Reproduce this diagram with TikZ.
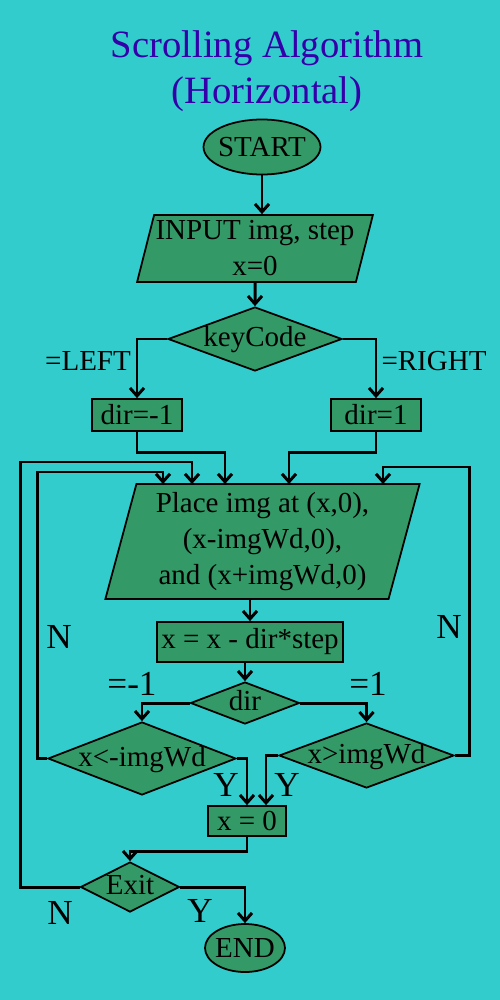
\documentclass[tikz,border=0pt]{standalone}
\usepackage{fontspec}
\setmainfont{Liberation Serif}
\usetikzlibrary{shapes.geometric,arrows.meta,calc}

\definecolor{bgcyan}{RGB}{51,204,204}
\definecolor{boxgreen}{RGB}{51,153,102}
\definecolor{titleblue}{RGB}{51,0,170}

\begin{document}
\begin{tikzpicture}[
				x=0.2mm, y=-0.2mm,
				basebox/.style={draw, line width=1pt, fill=boxgreen, inner sep=0pt,
						font=\fontsize{16.5}{20.5}\selectfont, align=center},
				terminal/.style={basebox, ellipse, inner xsep=-2.5pt},
				io/.style={basebox, trapezium, trapezium stretches=true, inner ysep=2pt},
				process/.style={basebox, rectangle, inner sep=2pt},
				decision/.style={basebox, diamond, shape aspect=3,
						text height=9pt, text depth=0pt},
				lbl/.style={font=\fontsize{16.5}{20}\selectfont},
				biglbl/.style={font=\fontsize{20}{24}\selectfont},
				arr/.style={-{Straight Barb[length=4.5pt,width=8pt]}, line width=1.7pt}]

			% background and title
			\fill[bgcyan] (0,0) rectangle (500,1000);
			\node[font=\fontsize{22}{26}\selectfont, text=titleblue, align=center] (title) at (267,71)
			{Scrolling Algorithm\\(Horizontal)};

			% Start and input
			\node[terminal, minimum width=2.34cm, minimum height=1.1cm] (start) at (262,147) {START};
			\node[io, minimum width=4.72cm, minimum height=1.34cm,
				trapezium left angle=75, trapezium right angle=105] (input) at (255,248.5)
			{INPUT img, step\\x=0};
			\node[decision, minimum width=3.48cm, minimum height=1.28cm] (keycode) at (255,339) {keyCode};
			\node[process, minimum width=1.8cm, minimum height=0.64cm] (dirL) at (137,415) {dir=-1};
			\node[process, minimum width=1.8cm, minimum height=0.64cm] (dirR) at (376,415) {dir=1};

			% Draw and move
			\node[io, minimum width=6.3cm, minimum height=2.3cm,
				trapezium left angle=76, trapezium right angle=104] (place) at (262.5,541.5)
			{Place img at (x,0),\\(x-imgWd,0),\\and (x+imgWd,0)};
			\node[process, minimum width=3.72cm, minimum height=0.8cm] (update) at (250,642) {x = x - dir*step};
			\node[decision, minimum width=2.18cm, minimum height=0.84cm] (dircheck) at (245,703) {dir};
			\node[decision, minimum width=3.76cm, minimum height=1.46cm] (chkL) at (142,758.5) {x<-imgWd};
			\node[decision, minimum width=3.5cm, minimum height=1.3cm] (chkR) at (366.5,755.5) {x>imgWd};
			\node[process, minimum width=1.56cm, minimum height=0.6cm] (reset) at (247,821) {x = 0};

			% Exit and end
			\node[decision, minimum width=1.98cm, minimum height=1.0cm] (exitq) at (130,887) {Exit};
			\node[terminal, minimum width=1.6cm, minimum height=0.96cm] (stop) at (245,948) {END};

			% Labels
			\node[lbl] (lblLeft) at (88,361.5) {=LEFT};
			\node[lbl] (lblRight) at (434,361.5) {=RIGHT};
			\node[biglbl] (lblNegOne) at (132,684) {=-1};
			\node[biglbl] (lblOne) at (368,684) {=1};
			\node[biglbl] (lblNL) at (59,637) {N};
			\node[biglbl] (lblNR) at (449,627) {N};
			\node[biglbl] (lblYL) at (226,785) {Y};
			\node[biglbl] (lblYR) at (287,785) {Y};
			\node[biglbl] (lblNExit) at (60,913) {N};
			\node[biglbl] (lblYExit) at (200,911) {Y};

			% Connectors
			\draw[arr] (start) -- (start |- input.north);
			\draw[arr] (input) -- (keycode);
			\draw[arr] (keycode.west) -| (dirL.north);
			\draw[arr] (keycode.east) -| (dirR.north);
			\draw[arr] (dirL.south) -- ++(0,21) -| ($(place.center)+(-37.5,-57.5)$);
			\draw[arr] (dirR.south) -- ++(0,21) -| ($(place.center)+(26.5,-57.5)$);
			\draw[arr] (update.north |- place.south) -- (update.north);
			\draw[arr] (dircheck.north |- update.south) -- (dircheck.north);
			\draw[arr] (dircheck.west) -| (chkL.north);
			\draw[arr] (dircheck.east) -| (chkR.north);
			\draw[arr] (chkL.east) -| (reset.north);
			\draw[arr] (chkR.west) -| ($(reset.north)+(19,0)$);
			\draw[arr] (chkL.west) -| ++(-10,-286.5) -| ($(place.center)+(-99.5,-57.5)$);
			\draw[arr] (chkR.east) -| ++(15,-288.5) -| ($(place.center)+(120.5,-57.5)$);
			\draw[arr] (reset.south) -- ++(0,15) -| (exitq.north);
			\draw[arr] (exitq.west) -| ++(-59.5,-425) -| ($(place.center)+(-70.5,-57.5)$);
			\draw[arr] (exitq.east) -| (stop.north);

		\end{tikzpicture}
\end{document}
